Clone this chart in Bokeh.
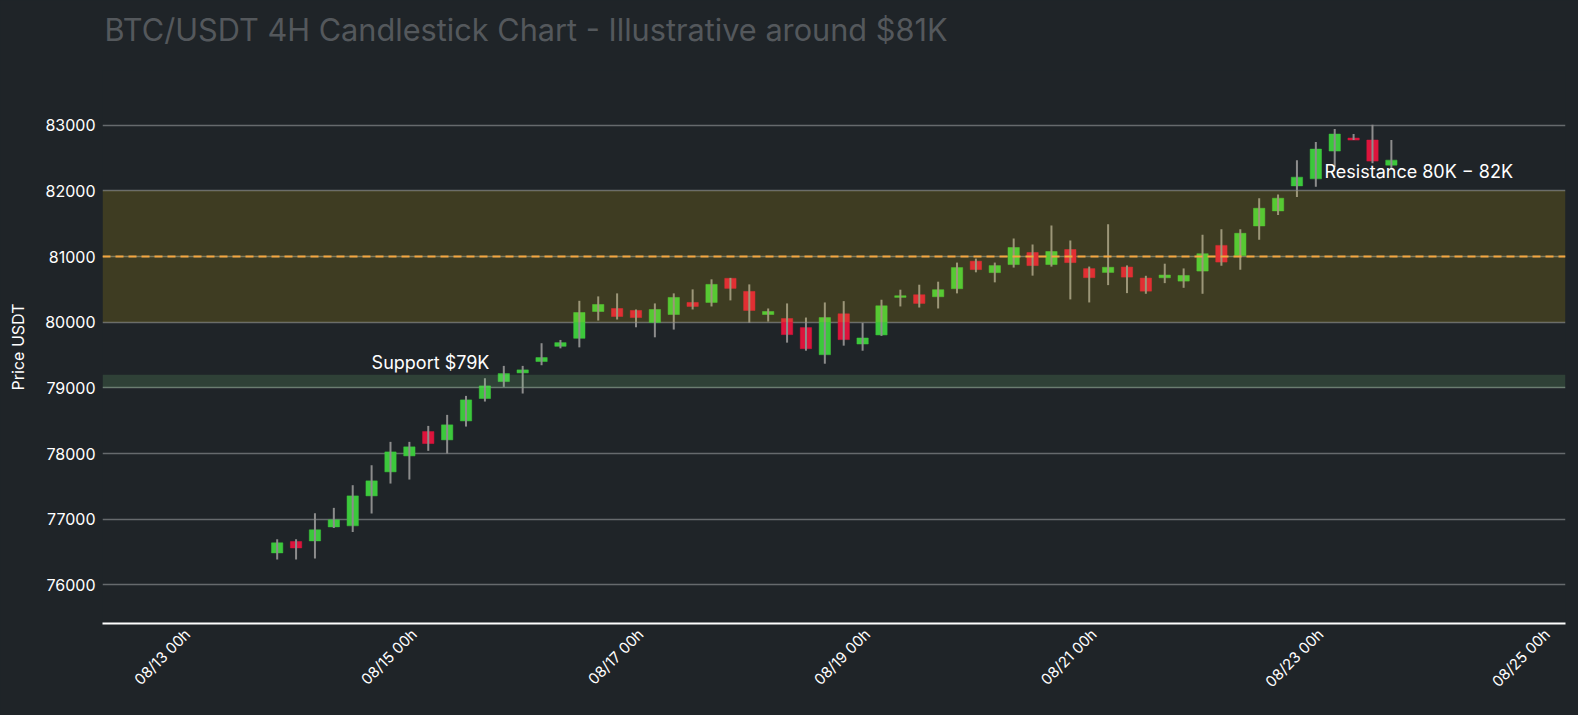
import pandas as pd
from bokeh.plotting import figure
from bokeh.models import (ColumnDataSource, Range1d, FixedTicker, DatetimeTickFormatter,
                          BoxAnnotation, Span, Label, Title)
from bokeh.embed import file_html
from bokeh.resources import INLINE
import math

# ---------------- data ----------------
start_time = "2025-08-13 19:00"
n_candles = 60
opens = [76487, 76660, 76670, 76883, 76899, 77355, 77721, 77964, 78335, 78208,
         78497, 78838, 79096, 79228, 79401, 79633, 79755, 80163, 80209, 80179,
         79995, 80117, 80301, 80301, 80668, 80469, 80117, 80056, 79918, 79505,
         80128, 79668, 79806, 80378, 80418, 80388, 80510, 80929, 80755, 80878,
         81061, 80878, 81107, 80816, 80758, 80840, 80672, 80677, 80626, 80779,
         81170, 81013, 81466, 81695, 82076, 82183, 82606, 82804, 82774, 82392]
highs = [76695, 76695, 77091, 77173, 77518, 77822, 78178, 78178, 78421, 78589,
         78878, 79147, 79335, 79335, 79680, 79730, 80326, 80393, 80439, 80194,
         80286, 80439, 80500, 80653, 80675, 80576, 80209, 80286, 80071, 80301,
         80321, 79990, 80342, 80495, 80571, 80617, 80908, 80969, 80908, 81276,
         81184, 81474, 81245, 80847, 81490, 80865, 80707, 80891, 80819, 81333,
         81415, 81415, 81888, 81944, 82468, 82743, 82941, 82865, 83008, 82774]
lows = [76386, 76386, 76401, 76868, 76807, 77086, 77543, 77604, 78041, 78000,
        78411, 78792, 79015, 78914, 79345, 79602, 79617, 80025, 80041, 79923,
        79770, 79888, 80194, 80240, 80332, 79990, 80010, 79689, 79566, 79368,
        79643, 79566, 79791, 80240, 80224, 80209, 80439, 80760, 80607, 80832,
        80709, 80847, 80347, 80301, 80565, 80443, 80433, 80595, 80524, 80433,
        80860, 80799, 81257, 81634, 81908, 82061, 82361, 82773, 82422, 82341]
closes = [76640, 76563, 76838, 76990, 77355, 77584, 78025, 78102, 78152, 78437,
          78817, 79030, 79218, 79274, 79462, 79689, 80148, 80270, 80087, 80071,
          80194, 80377, 80240, 80576, 80515, 80179, 80163, 79811, 79597, 80071,
          79735, 79760, 80250, 80403, 80286, 80495, 80832, 80801, 80862, 81138,
          80862, 81077, 80908, 80679, 80836, 80687, 80473, 80718, 80712, 81043,
          80916, 81354, 81735, 81888, 82209, 82636, 82865, 82773, 82453, 82468]

y_ticks = [76000, 77000, 78000, 79000, 80000, 81000, 82000, 83000]
x_tick_dates = ["2025-08-13", "2025-08-15", "2025-08-17", "2025-08-19",
                "2025-08-21", "2025-08-23", "2025-08-25"]

support_low, support_high = 79000, 79200
resist_low, resist_high = 80000, 82000
resist_mid = 81000

title_text = "BTC/USDT 4H Candlestick Chart - Illustrative around $81K"
support_text = "Support $79K"
resist_text = "Resistance 80K \u2212 82K"

# ---------------- styling ----------------
BG = "#1f2428"
FONT = "Inter"
UP = "#3cc83c"
DOWN = "#dc143c"

times = pd.date_range(start_time, periods=n_candles, freq="4h")
df = pd.DataFrame(dict(t=times, open=opens, high=highs, low=lows, close=closes))
df["top"] = df[["open", "close"]].max(axis=1)
df["bottom"] = df[["open", "close"]].min(axis=1)
df["color"] = [UP if c >= o else DOWN for o, c in zip(opens, closes)]
src = ColumnDataSource(df)

bar_w = 4 * 3600 * 1000 * 0.6

x_start = pd.Timestamp("2025-08-12 06:00")
x_end = pd.Timestamp("2025-08-25 03:53")
y_start, y_end = 75412, 83833

p = figure(width=1578, height=715, x_axis_type="datetime",
           x_range=Range1d(x_start, x_end), y_range=Range1d(y_start, y_end),
           output_backend="svg", toolbar_location=None,
           min_border_left=102, min_border_right=13, min_border_top=70, min_border_bottom=92,
           outline_line_color=None, background_fill_color=BG, border_fill_color=BG)
p.styles = {"background-color": BG}

p.title = Title(text=title_text, text_font=FONT, text_font_size="30.7px",
                text_color="#54585c", text_font_style="normal", standoff=0, offset=2,
                padding=dict(top=7, bottom=23, left=0, right=0))

p.vbar(x="t", width=bar_w, top="top", bottom="bottom", fill_color="color",
       line_color="color", line_width=0.5, source=src)
p.segment(x0="t", x1="t", y0="low", y1="high", line_color="#8c8c8c", line_width=2, source=src)

# bands (drawn over the candles, tinting them)
p.add_layout(BoxAnnotation(bottom=resist_low, top=resist_high, fill_color="#FFD700",
                           fill_alpha=0.14, line_color=None))
p.add_layout(BoxAnnotation(bottom=support_low, top=support_high, fill_color="#90EE90",
                           fill_alpha=0.15, line_color=None))
p.add_layout(Span(location=resist_mid, dimension="width", line_color="#f4a640",
                  line_width=2, line_dash="8 5"))

p.add_layout(Label(x=pd.Timestamp("2025-08-14 15:00"), y=79380, text=support_text,
                   text_color="white", text_font=FONT, text_font_size="18px",
                   text_baseline="middle"))
p.add_layout(Label(x=pd.Timestamp("2025-08-23 00:50"), y=82290, text=resist_text,
                   text_color="white", text_font=FONT, text_font_size="18px",
                   text_baseline="middle"))

# grid
p.xgrid.grid_line_color = None
p.ygrid.grid_line_color = "#666a6d"
p.ygrid.grid_line_width = 1.5

# y axis
p.yaxis.ticker = FixedTicker(ticks=y_ticks)
p.yaxis.axis_label = "Price USDT"
p.yaxis.axis_label_text_font = FONT
p.yaxis.axis_label_text_font_size = "16px"
p.yaxis.axis_label_text_font_style = "normal"
p.yaxis.axis_label_text_color = "white"
p.yaxis.axis_label_standoff = 14
p.yaxis.major_label_text_font = FONT
p.yaxis.major_label_text_font_size = "16px"
p.yaxis.major_label_text_color = "white"
p.yaxis.major_label_standoff = 7
p.yaxis.axis_line_color = None
p.yaxis.major_tick_line_color = None
p.yaxis.minor_tick_line_color = None
p.yaxis.major_tick_out = 0
p.yaxis.major_tick_in = 0

# x axis
p.xaxis.ticker = FixedTicker(ticks=[pd.Timestamp(d).value // 10**6 for d in x_tick_dates])
fmt = "%m/%d %Hh"
p.xaxis.formatter = DatetimeTickFormatter(microseconds=fmt, milliseconds=fmt, seconds=fmt,
                                          minsec=fmt, minutes=fmt, hourmin=fmt, hours=fmt,
                                          days=fmt, months=fmt, years=fmt)
p.xaxis.major_label_orientation = math.pi / 4
p.xaxis.major_label_text_font = FONT
p.xaxis.major_label_text_font_size = "15px"
p.xaxis.major_label_text_color = "white"
p.xaxis.major_label_standoff = 8
p.xaxis.axis_line_color = "white"
p.xaxis.axis_line_width = 2
p.xaxis.major_tick_line_color = None
p.xaxis.minor_tick_line_color = None
p.xaxis.major_tick_out = 0
p.xaxis.major_tick_in = 0

open("out.html", "w").write(file_html(p, INLINE))
